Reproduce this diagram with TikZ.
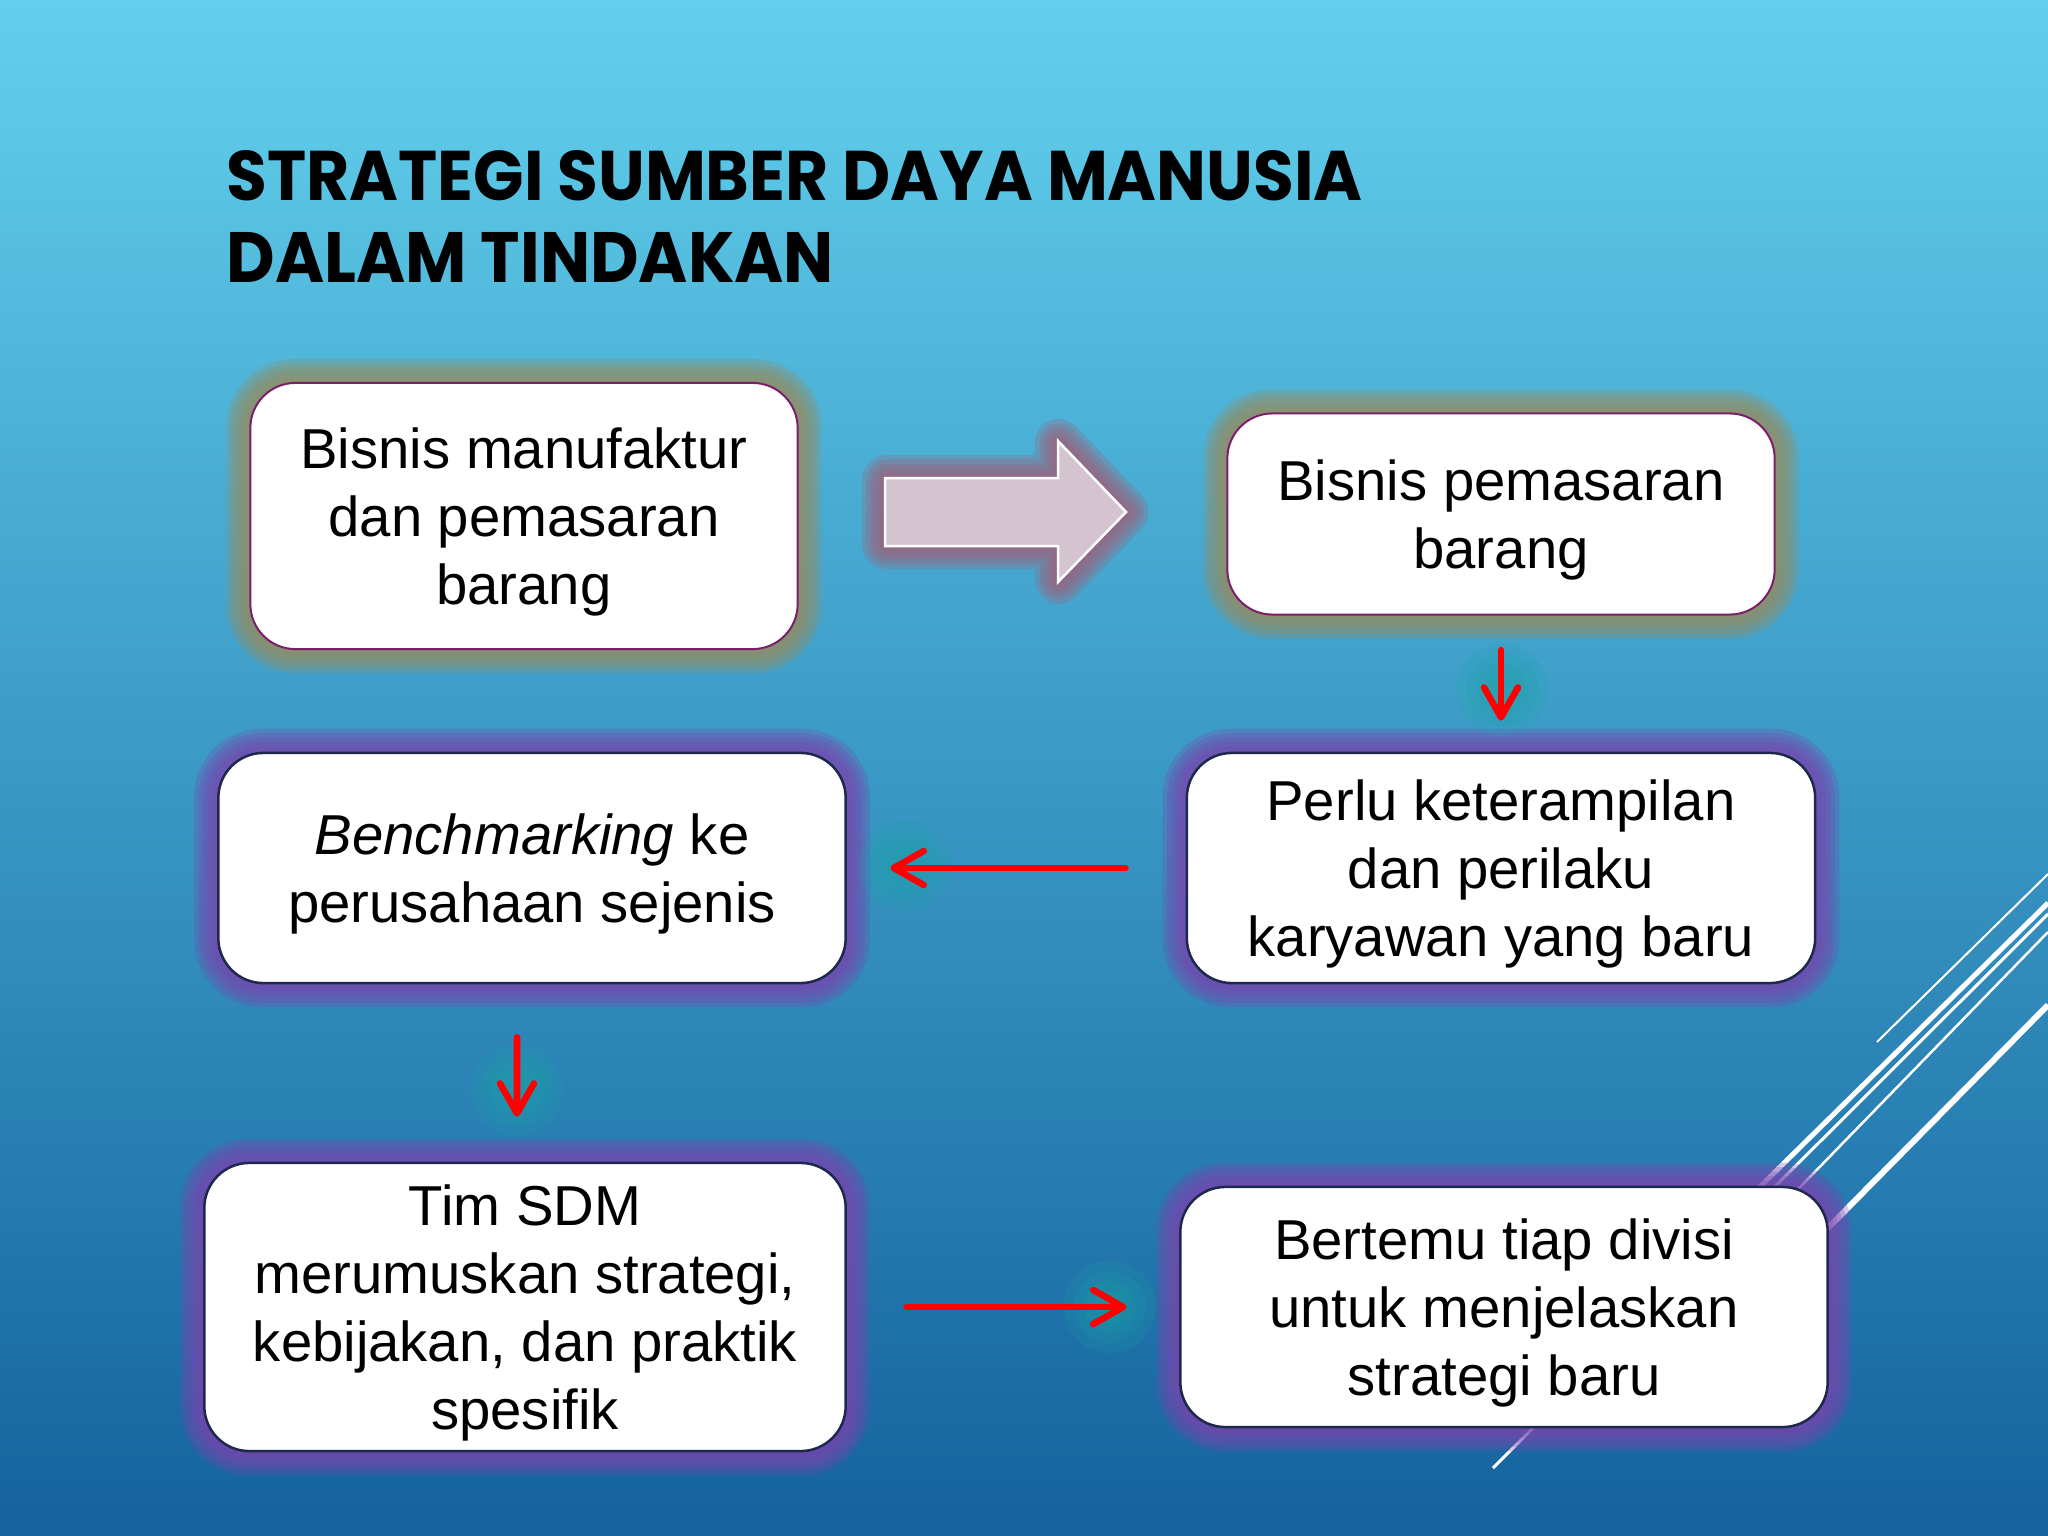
\documentclass[tikz,border=0pt]{standalone}
\usepackage{fontspec}
\setmainfont{Liberation Sans}
\newfontfamily\titlefont{Poppins}
\usepackage{graphicx}
\usepackage{tikz}
\usetikzlibrary{arrows.meta}
\pgfdeclarelayer{bg}
\pgfdeclarelayer{glow}
\pgfsetlayers{bg,glow,main}
\definecolor{skytop}{RGB}{98,208,236}
\definecolor{skymid}{RGB}{58,153,198}
\definecolor{skybot}{RGB}{20,98,158}
\definecolor{glowolive}{RGB}{150,140,95}
\definecolor{glowmauve}{RGB}{160,95,120}
\definecolor{glowpurple}{RGB}{120,70,175}
\definecolor{glowteal}{RGB}{25,165,165}
\definecolor{plum}{RGB}{125,30,105}
\definecolor{navy}{RGB}{30,40,75}
\definecolor{arrowfill}{RGB}{212,196,208}

\begin{document}
\begin{tikzpicture}[x=0.01cm,y=-0.01cm,thick,
  main node/.style={rectangle,rounded corners=0.45cm,fill=white,draw=navy,line width=0.025cm,
    align=center,inner sep=0pt,text depth=0pt,font=\fontsize{16}{19.4}\selectfont},
  top node/.style={main node,draw=plum,line width=0.02cm},
  title node/.style={anchor=base west,inner sep=0pt,font=\titlefont\bfseries},
  flow/.style={draw=red,line width=0.065cm,line cap=round,-{Straight Barb[length=0.3cm,width=0.34cm,round]}},
  glow/.style={line width=#1,opacity=0.28,rounded corners=0.45cm,line join=round}]
  \useasboundingbox (0,0) rectangle (2048,1536);

  \begin{pgfonlayer}{bg}
    \shade[top color=skytop,middle color=skymid,bottom color=skybot] (0,0) rectangle (2048,1536);
    \draw[white,line width=0.02cm] (1877,1042) -- (2048,874);
    \draw[white,line width=0.05cm] (1645,1300) -- (2048,903);
    \draw[white,line width=0.03cm] (1493,1468) -- (2048,914);
    \draw[white,line width=0.025cm] (1700,1290) -- (2048,932);
    \draw[white,line width=0.06cm] (1750,1307) -- (2048,1005);
  \end{pgfonlayer}

  \node[title node] (t1) at (226,200) {\resizebox{11.35cm}{0.5cm}{STRATEGI SUMBER DAYA MANUSIA}};
  \node[title node] (t2) at (226,282) {\resizebox{6.07cm}{0.5cm}{DALAM TINDAKAN}};

  \node[top node,minimum width=5.47cm,minimum height=2.66cm] (1) at (524,516) {Bisnis manufaktur\\dan pemasaran\\barang};
  \node[top node,minimum width=5.47cm,minimum height=2.01cm] (2) at (1501,514) {Bisnis pemasaran\\barang};
  \node[main node,minimum width=6.28cm,minimum height=2.30cm] (3) at (1501,868) {Perlu keterampilan\\dan perilaku\\karyawan yang baru};
  \node[main node,minimum width=6.27cm,minimum height=2.30cm] (4) at (532,868) {\textit{Benchmarking} ke\\perusahaan sejenis};
  \node[main node,minimum width=6.41cm,minimum height=2.88cm] (5) at (525,1307) {Tim SDM\\merumuskan strategi,\\kebijakan, dan praktik\\spesifik};
  \node[main node,minimum width=6.47cm,minimum height=2.40cm] (6) at (1504,1307) {Bertemu tiap divisi\\untuk menjelaskan\\strategi baru};

  \begin{pgfonlayer}{glow}
    \foreach \n/\c in {1/glowolive,2/glowolive,3/glowpurple,4/glowpurple,5/glowpurple,6/glowpurple}
      \foreach \w in {0.46,0.37,0.28,0.19,0.1}
        \draw[\c,glow=\w cm] (\n.south west) rectangle (\n.north east);
    \foreach \w in {0.46,0.37,0.28,0.19,0.1}
      \draw[glowmauve,glow=\w cm,rounded corners=0.02cm]
        (885,478) -- (1058,478) -- (1058,441) -- (1126,512) -- (1058,582) -- (1058,546) -- (885,546) -- cycle;
    \foreach \a/\b in {1502/690,905/866,517/1090,1110/1307}
      \foreach \r in {46,36,26,16}
        \fill[glowteal,opacity=0.18] (\a,\b) circle (\r);
  \end{pgfonlayer}

  \draw[white,fill=arrowfill,line width=0.025cm]
    (885,478) -- (1058,478) -- (1058,441) -- (1126,512) -- (1058,582) -- (1058,546) -- (885,546) -- cycle;

  \path
    (2) edge[flow,shorten <=0.345cm,shorten >=0.31cm] (3)
    (3) edge[flow,shorten <=0.6cm,shorten >=0.435cm] (4)
    ([xshift=-0.15cm]4.south) edge[flow,shorten <=0.53cm,shorten >=0.45cm] ([xshift=-0.08cm]5.north)
    (5) edge[flow,shorten <=0.595cm,shorten >=0.525cm] (6);
\end{tikzpicture}
\end{document}
